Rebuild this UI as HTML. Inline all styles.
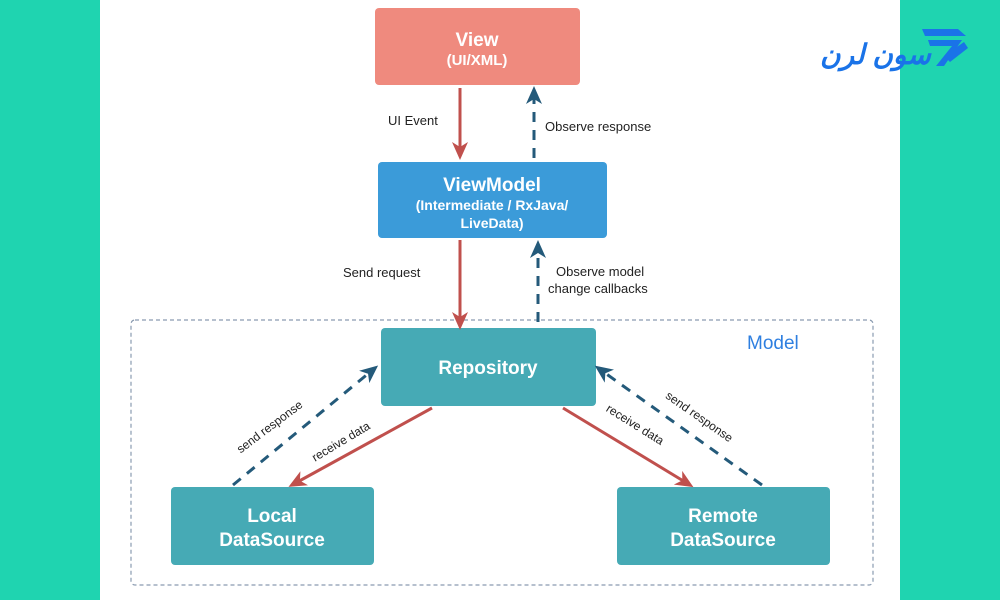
<!DOCTYPE html>
<html><head><meta charset="utf-8"><style>
html,body{margin:0;padding:0;}
body{width:1000px;height:600px;overflow:hidden;background:#1fd4b0;}
</style></head><body>
<svg width="1000" height="600" viewBox="0 0 1000 600" xmlns="http://www.w3.org/2000/svg" font-family="Liberation Sans, Arial, sans-serif" style="display:block">
<defs>
<marker id="r" markerWidth="18" markerHeight="16" refX="14" refY="8" orient="auto" markerUnits="userSpaceOnUse"><path d="M0,0 L18,8 L0,16 L5,8 z" fill="#c0504d"/></marker>
<marker id="b" markerWidth="18" markerHeight="16" refX="14" refY="8" orient="auto" markerUnits="userSpaceOnUse"><path d="M0,0 L18,8 L0,16 L5,8 z" fill="#245a7a"/></marker>
</defs>
<rect x="100" y="0" width="800" height="600" fill="#fff"/>
<!-- logo -->
<g fill="#1a73e8">
<text x="820" y="64" font-size="28" font-weight="bold" font-style="italic" fill="#1a73e8">ﺳﻮن ﻟﺮن</text>
<path d="M922 29 L958 29 L966 36 L925 36 z"/>
<path d="M928 40 L962 40 L944 66 L936 66 L952 46 L930 46 z"/>
<path d="M944 56 L964 42 L968 48 L950 62 z"/>
</g>
<!-- model dashed -->
<rect x="131" y="320" width="742" height="265" rx="4" fill="none" stroke="#8a9bb0" stroke-width="1.2" stroke-dasharray="4,3"/>
<text x="747" y="349" font-size="19" fill="#2e7fe0">Model</text>
<!-- boxes -->
<rect x="375" y="8" width="205" height="77" rx="4" fill="#ef8a7e"/>
<text x="477" y="46" font-size="19" font-weight="bold" fill="#fff" text-anchor="middle">View</text>
<text x="477" y="65" font-size="15" font-weight="bold" fill="#fff" text-anchor="middle">(UI/XML)</text>
<rect x="378" y="162" width="229" height="76" rx="4" fill="#3b9bd9"/>
<text x="492" y="191" font-size="19" font-weight="bold" fill="#fff" text-anchor="middle">ViewModel</text>
<text x="492" y="210" font-size="14" font-weight="bold" fill="#fff" text-anchor="middle">(Intermediate / RxJava/</text>
<text x="492" y="228" font-size="14" font-weight="bold" fill="#fff" text-anchor="middle">LiveData)</text>
<rect x="381" y="328" width="215" height="78" rx="4" fill="#46aab5"/>
<text x="488" y="374" font-size="19" font-weight="bold" fill="#fff" text-anchor="middle">Repository</text>
<rect x="171" y="487" width="203" height="78" rx="4" fill="#46aab5"/>
<text x="272" y="522" font-size="19" font-weight="bold" fill="#fff" text-anchor="middle">Local</text>
<text x="272" y="546" font-size="19" font-weight="bold" fill="#fff" text-anchor="middle">DataSource</text>
<rect x="617" y="487" width="213" height="78" rx="4" fill="#46aab5"/>
<text x="723" y="522" font-size="19" font-weight="bold" fill="#fff" text-anchor="middle">Remote</text>
<text x="723" y="546" font-size="19" font-weight="bold" fill="#fff" text-anchor="middle">DataSource</text>
<!-- arrows -->
<g stroke-width="3" fill="none">
<line x1="460" y1="88" x2="460" y2="156" stroke="#c0504d" marker-end="url(#r)"/>
<line x1="534" y1="158" x2="534" y2="90" stroke="#245a7a" stroke-dasharray="10,8" marker-end="url(#b)"/>
<line x1="460" y1="240" x2="460" y2="326" stroke="#c0504d" marker-end="url(#r)"/>
<line x1="538" y1="322" x2="538" y2="244" stroke="#245a7a" stroke-dasharray="10,8" marker-end="url(#b)"/>
<line x1="432" y1="408" x2="292" y2="485" stroke="#c0504d" marker-end="url(#r)"/>
<line x1="233" y1="485" x2="375" y2="368" stroke="#245a7a" stroke-dasharray="10,8" marker-end="url(#b)"/>
<line x1="563" y1="408" x2="690" y2="485" stroke="#c0504d" marker-end="url(#r)"/>
<line x1="762" y1="485" x2="598" y2="368" stroke="#245a7a" stroke-dasharray="10,8" marker-end="url(#b)"/>
</g>
<g font-size="13" fill="#222">
<text x="388" y="125">UI Event</text>
<text x="545" y="131">Observe response</text>
<text x="343" y="277">Send request</text>
<text x="556" y="276">Observe model</text>
<text x="548" y="293">change callbacks</text>
<text transform="translate(272,430) rotate(-37)" text-anchor="middle" font-size="12">send response</text>
<text transform="translate(343,445) rotate(-31)" text-anchor="middle" font-size="12">receive data</text>
<text transform="translate(633,428) rotate(32)" text-anchor="middle" font-size="12">receive data</text>
<text transform="translate(697,420) rotate(35)" text-anchor="middle" font-size="12">send response</text>
</g>
</svg>
</body></html>
